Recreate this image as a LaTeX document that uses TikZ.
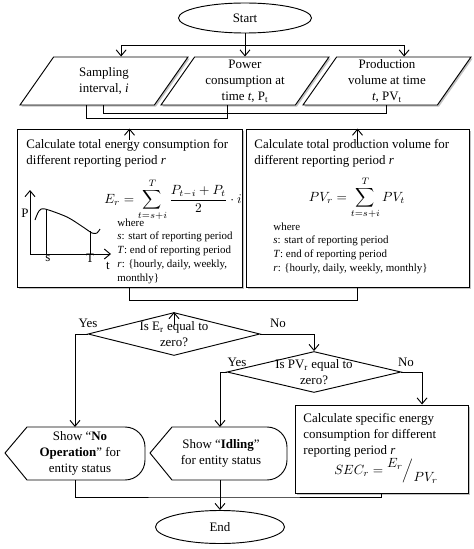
\documentclass[tikz,border=0pt]{standalone}
\usepackage{fontspec}
\setmainfont{Liberation Serif}
\usetikzlibrary{shapes.geometric,arrows.meta,calc,shadows}

\newcommand{\inbody}[1]{\parbox[c][36pt][c]{75.6pt}{\centering #1}}

\tikzset{
	boxshadow/.style={drop shadow={shadow xshift=1.2pt,shadow yshift=-1.2pt,fill=black!40,opacity=0.6}},
	terminal/.style={ellipse,draw,fill=white,inner sep=0pt,minimum width=99.75pt,minimum height=22.5pt},
	inputbox/.style={trapezium,trapezium left angle=55,trapezium right angle=125,draw,fill=white,boxshadow,inner sep=0pt},
	calcbox/.style={rectangle,draw,fill=white,boxshadow},
	decision/.style={diamond,draw,fill=white,inner sep=0pt},
	arr/.style={-{Straight Barb[length=4.5pt,width=7.5pt]}},
	lbl/.style={inner sep=0.75pt},
	formula/.style={inner sep=0pt},
	smalltxt/.style={font=\fontsize{8.2}{10.3}\selectfont,align=left,inner sep=0pt},
}

\begin{document}
\begin{tikzpicture}[x=0.75pt,y=0.75pt,yscale=-1,xscale=1,line width=0.7pt,font=\fontsize{9.7}{12}\selectfont]
	\useasboundingbox (0,0) rectangle (474,549);

	%Terminals
	\node[terminal] (start) at (245,18) {Start};
	\node[terminal,minimum width=96.75pt,minimum height=24.75pt] (stop) at (220,527) {End};

	%Inputs
	\node[inputbox] (in1) at (104,81) {\inbody{Sampling\\interval, \textit{i}}};
	\node[inputbox] (in2) at (245,81) {\inbody{Power\\consumption at\\time \textit{t}, P\textsubscript{t}}};
	\node[inputbox] (in3) at (387,81) {\inbody{Production\\volume at time\\\textit{t}, PV\textsubscript{t}}};

	%Calculation boxes
	\node[calcbox,minimum width=168.75pt,minimum height=118.5pt] (ebox) at (129.5,208) {};
	\node[calcbox,minimum width=167.25pt,minimum height=118.5pt] (pvbox) at (357.5,208) {};
	\node[calcbox,minimum width=129.75pt,minimum height=66pt] (sec) at (381.5,449) {};

	% Energy box
	\node[lbl,anchor=west,align=left] (etitle) at (25,153) {Calculate total energy consumption for\\different reporting period \textit{r}};
	\node[formula] (eform) at (173,200) {$\displaystyle E_r=\sum_{t=s+i}^{T}\frac{P_{t-i}+P_t}{2}\cdot i$};
	\node[smalltxt,anchor=west] (elist) at (117,251) {where\\\textit{s}: start of reporting period\\\textit{T}: end of reporting period\\\textit{r}: \{hourly, daily, weekly,\\monthly\}};
	%Small graph
	\draw[arr] (30,254) -- (30,190);
	\draw[arr] (30,254) -- (111,254);
	\draw plot[smooth] coordinates {(35,220) (39,211) (45,209) (67,217) (83,227) (92,233) (97,233) (100,229)};
	\draw (46,209) -- (46,254);
	\draw (90,231) -- (90,254);
	\node[lbl] (paxis) at (25,213) {P};
	\node[lbl] (sval) at (48,259) {s};
	\node[lbl] (Tval) at (90,258) {T};
	\node[lbl] (taxis) at (108,266) {t};

	% Production box
	\node[lbl,anchor=west,align=left] (pvtitle) at (253,153) {Calculate total production volume for\\different reporting period \textit{r}};
	\node[formula] (pvform) at (357,198) {$\displaystyle PV_r=\sum_{t=s+i}^{T}PV_t$};
	\node[smalltxt,anchor=west] (pvlist) at (273,248) {where\\\textit{s}: start of reporting period\\\textit{T}: end of reporting period\\\textit{r}: \{hourly, daily, weekly, monthly\}};

	%Decisions
	\node[decision,minimum width=129pt,minimum height=32.25pt] (d1) at (174,334) {};
	\node[lbl,align=center] (d1txt) at (d1) {Is E\textsubscript{r} equal to\\zero?};
	\node[decision,minimum width=130.5pt,minimum height=30.75pt] (d2) at (314,372) {};
	\node[lbl,align=center] (d2txt) at (d2) {Is PV\textsubscript{r} equal to\\zero?};
	\node[lbl] (yes1) at (88,323) {Yes};
	\node[lbl] (no1) at (278,323) {No};
	\node[lbl] (yes2) at (237,362) {Yes};
	\node[lbl] (no2) at (406,362) {No};

	%Displays
	\draw (5,453) -- (27,427) -- (125,427) arc[start angle=270,end angle=360,radius=20] -- (145,460) arc[start angle=0,end angle=90,radius=20] -- (27,480) -- cycle;
	\draw (150,453) -- (172,427) -- (267,427) arc[start angle=270,end angle=360,radius=20] -- (287,460) arc[start angle=0,end angle=90,radius=20] -- (172,480) -- cycle;
	\node[lbl,align=center] (noop) at (80,453) {Show “\textbf{No}\\\textbf{Operation}” for\\entity status};
	\node[lbl,align=center] (idle) at (221,453) {Show “\textbf{Idling}”\\for entity status};
	\coordinate (noopT) at (75,427);
	\coordinate (noopB) at (75,480);
	\coordinate (idleT) at (220,427);
	\coordinate (idleB) at (220,480);

	% SEC box
	\node[lbl,anchor=west,align=left] (sectxt) at (302,435) {Calculate specific energy\\consumption for different\\reporting period \textit{r}};
	\node[formula] (secform) at (386,471) {$SEC_r=\raisebox{5pt}{$E_r$}\Big/\raisebox{-5pt}{$PV_r$}$};

	%Connectors
	\coordinate (fork) at (245,45);
	\draw (start) -- (fork);
	\draw[arr] (fork) -- (in2);
	\draw[arr] (fork) -| ($(in1.top left corner)!.5!(in1.top right corner)$);
	\draw[arr] (fork) -| ($(in3.top left corner)!.5!(in3.top right corner)$);
	\draw ($(in1.bottom left corner)!.5!(in1.bottom right corner)$) -- ++(0,13) -| ($(in2.bottom left corner)!.5!(in2.bottom right corner)$);
	\draw ($(in1.bottom left corner)!.62!(in1.bottom right corner)$) -- ++(0,8) -| ($(in3.bottom left corner)!.62!(in3.bottom right corner)$);
	\draw[arr] ([yshift=8.25pt]ebox.north) -- (ebox.north);
	\draw[arr] ([yshift=12pt]pvbox.north) -- (pvbox.north);
	\draw (ebox.south) -- ++(0,13) -| (pvbox.south);
	\draw[arr] ([yshift=9.75pt]d1.north) -- (d1.north);
	\draw[arr] (d1.west) -| (noopT);
	\draw[arr] (d1.east) -| (d2.north);
	\draw[arr] (d2.west) -| (idleT);
	\draw[arr] (d2.east) -| ([xshift=30.4pt]sec.north);
	\coordinate (merge) at (220,497);
	\draw (noopB) |- (merge) -| (sec.south);
	\draw[arr] (idleB) -- (stop);
\end{tikzpicture}
\end{document}
